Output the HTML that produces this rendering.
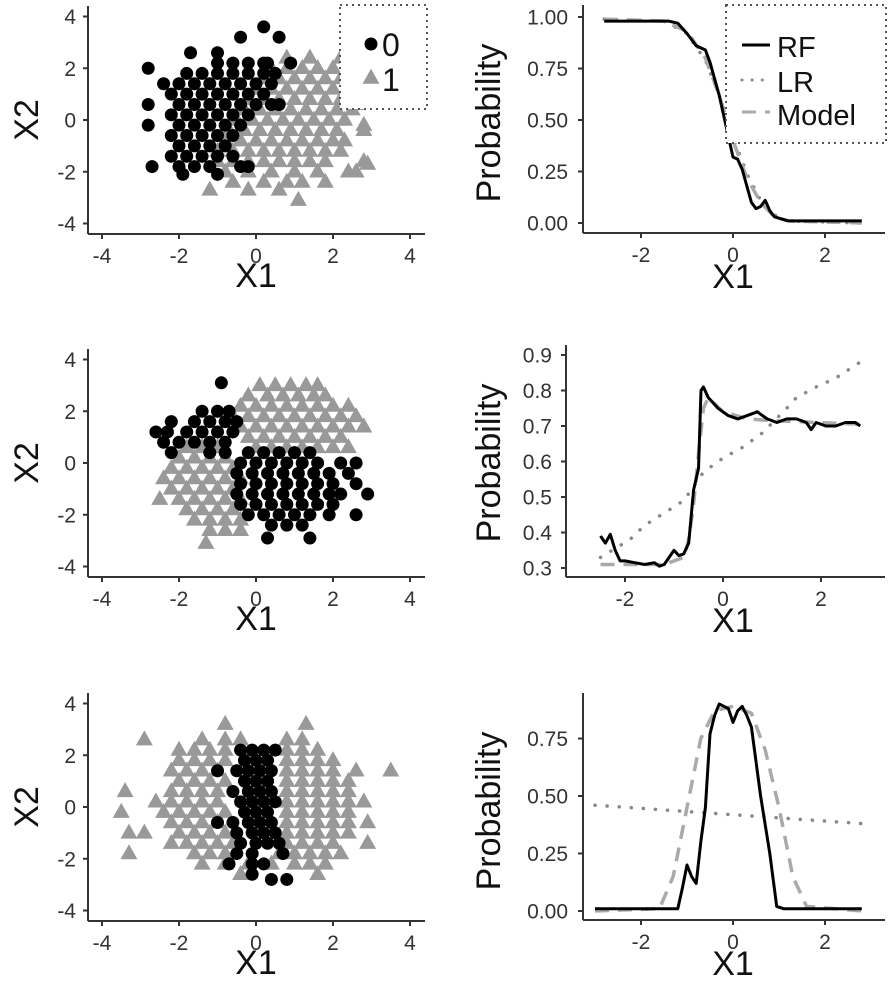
<!DOCTYPE html>
<html><head><meta charset="utf-8"><style>
html,body{margin:0;padding:0;background:#fff;}
svg{display:block;font-family:"Liberation Sans",sans-serif;}
</style></head><body>
<svg id="fig" width="893" height="1004" viewBox="0 0 893 1004">
<g id="static"></g>
</svg>
<script>
// ---------- DATA ----------
// scatter rows: [y, [x values]]
const p1Gray=[[2.4,[0.8,1.4,2.2,2.6]],[2.0,[0.4,0.8,1.2,1.6,2.0]],[1.6,[0.2,0.6,1.0,1.4,1.8,2.2]],[1.2,[0.0,0.4,0.8,1.2,1.6,2.0,2.4]],[0.8,[-0.2,0.2,0.6,1.0,1.4,1.8,2.2,2.7]],[0.4,[-0.3,0.1,0.5,0.9,1.3,1.7,2.1,2.5]],[0.0,[-0.5,-0.1,0.3,0.7,1.1,1.5,1.9,2.3]],[-0.4,[-0.7,-0.3,0.1,0.5,0.9,1.3,1.7,2.1,2.8]],[-0.8,[-0.8,-0.4,0,0.4,0.8,1.2,1.6,2.0,2.3]],[-1.2,[-1.0,-0.6,-0.2,0.2,0.6,1.0,1.4,1.8,2.2]],[-1.6,[-1.0,-0.6,-0.2,0.2,0.6,1.0,1.4,1.8,2.8]],[-2.0,[-0.8,-0.2,0.4,1.0,1.6,2.4,2.6]],[-2.4,[-0.6,0.2,0.8,1.2,1.8]],[-2.7,[-1.2,-0.2,0.6]],[-3.1,[1.1]],[-1.7,[2.9]],[-0.2,[2.8]],[0.6,[2.6]]];
const p1Black=[[2.2,[-1.0,-0.6,-0.2,0.2,0.3,0.9]],[1.8,[-1.8,-1.4,-1.0,-0.6,-0.2,0.2,0.5]],[1.4,[-2.0,-1.6,-1.2,-0.8,-0.4,0.0,0.4,-2.4]],[1.0,[-2.2,-1.8,-1.4,-1.0,-0.6,-0.2,0.2]],[0.6,[-2.0,-1.6,-1.2,-0.8,-0.4,0.0,0.4,0.6,-2.8]],[0.2,[-2.2,-1.8,-1.4,-1.0,-0.6,-0.2]],[-0.2,[-2.0,-1.6,-1.2,-0.8,-0.4,-2.8]],[-0.6,[-2.2,-1.8,-1.4,-1.0,-0.6]],[-1.0,[-2.0,-1.6,-1.2,-0.8]],[-1.4,[-2.2,-1.8,-1.4,-1.0,-0.6]],[-1.8,[-2.0,-1.6,-1.2,-0.4,-0.2,-2.7]],[-2.1,[-1.9,-1.0]],[2.0,[-2.8]],[2.6,[-1.7,-1.0]],[3.2,[-0.4,0.6]],[3.6,[0.2]]];
const p2Gray=[[3.0,[0.1,0.5,0.9,1.3,1.6]],[2.6,[-0.2,0.3,0.7,1.1,1.5,1.8]],[2.2,[-0.4,0,0.4,0.8,1.2,1.6,2.0,2.4]],[1.8,[-0.6,-0.2,0.2,0.6,1.0,1.4,1.8,2.2,2.6]],[1.4,[-0.4,0,0.4,0.8,1.2,1.6,2.0,2.4,2.8]],[1.0,[-0.2,0.2,0.6,1.0,1.4,1.8,2.2]],[0.6,[0.0,0.4,0.8,1.2,1.6,2.0,2.4,-1.8,-1.4,-1.0]],[0.2,[-2.0,-1.6,-1.2,-0.8]],[-0.2,[-2.2,-1.8,-1.4,-1.0,-0.6]],[-0.6,[-2.4,-2.0,-1.6,-1.2,-0.8,-0.4]],[-1.0,[-2.2,-1.8,-1.4,-1.0,-0.6]],[-1.4,[-2.5,-2.0,-1.6,-1.2,-0.8,-0.4]],[-1.8,[-1.8,-1.4,-1.0,-0.6]],[-2.2,[-1.6,-1.2,-0.8,-0.4]],[-2.6,[-1.2,-0.8,-0.4]],[-3.1,[-1.3]]];
const p2Black=[[2.0,[-1.4,-1.0,-0.7]],[1.6,[-2.2,-1.6,-1.2,-0.8,-0.5]],[1.2,[-2.6,-2.3,-1.8,-1.4,-1.0,-0.6]],[0.8,[-2.4,-2.0,-1.6,-1.2,-0.8]],[0.4,[-2.2,-1.2,-0.8,-0.2,0.2,0.6,1.0,1.4]],[3.1,[-0.9]],[0.0,[-0.4,0,0.4,0.8,1.2,1.6,2.2,2.6]],[-0.4,[-0.5,-0.1,0.3,0.7,1.1,1.5,1.9,2.4]],[-0.8,[-0.4,0,0.4,0.8,1.2,1.6,2.0,2.6]],[-1.2,[-0.5,-0.1,0.3,0.7,1.1,1.5,1.9,2.2,2.9]],[-1.6,[-0.4,0,0.4,0.8,1.2,1.6,2.0]],[-2.0,[-0.2,0.2,0.6,1.0,1.4,1.9,2.6]],[-2.4,[0.4,0.8,1.2]],[-2.9,[0.3,1.4]]];
const p3Gray=[[3.2,[-0.8,1.3]],[2.6,[-2.9,-1.4,-0.8,-0.4,0.8,1.2]],[2.2,[-2.0,-1.6,-1.2,-0.8,0.8,1.2,1.6]],[1.8,[-2.0,-1.6,-1.2,-0.8,0.8,1.2,1.6,2.0]],[1.4,[-2.2,-1.8,-1.4,-1.0,0.8,1.2,1.6,2.0,2.6,3.5]],[1.0,[-2.0,-1.6,-1.2,-0.8,0.8,1.2,1.6,2.0,2.4]],[0.6,[-3.4,-2.2,-1.8,-1.4,-1.0,0.8,1.2,1.6,2.0,2.4]],[0.2,[-2.6,-2.2,-1.8,-1.4,-1.0,0.8,1.2,1.6,2.0,2.4,2.8]],[-0.2,[-3.5,-2.4,-2.0,-1.6,-1.2,-0.8,0.8,1.2,1.6,2.0,2.4]],[-0.6,[-2.2,-1.8,-1.4,-1.0,0.8,1.2,1.6,2.0,2.4,2.9]],[-1.0,[-3.3,-2.9,-2.0,-1.6,-1.2,-0.8,0.8,1.2,1.6,2.0,2.4]],[-1.4,[-2.2,-1.8,-1.4,-1.0,-0.6,0.8,1.2,1.6,2.0,2.9]],[-1.8,[-3.3,-1.6,-1.2,-0.8,0.6,1.0,1.4,1.8,2.2]],[-2.2,[-1.4,-0.8,-0.2,0.4,1.0,1.4,1.8]],[-2.6,[-0.4,1.6]]];
const p3Black=[[2.2,[-0.4,-0.1,0.2,0.5]],[1.8,[-0.3,0,0.3]],[1.4,[-1.0,-0.5,-0.2,0.1,0.4]],[1.0,[-0.3,0,0.3]],[0.6,[-0.6,-0.2,0.1,0.4]],[0.2,[-0.4,-0.1,0.2,0.5]],[-0.2,[-0.3,0,0.3]],[-0.6,[-1.0,-0.6,-0.2,0.1,0.4]],[-1.0,[-0.5,-0.1,0.2,0.5]],[-1.4,[-0.4,0,0.3,0.6]],[-1.8,[-0.5,-0.1,0.7]],[-2.2,[-0.7,-0.1,0.2]],[-2.6,[-0.1]],[-2.8,[0.4,0.8]]];

const q1X=[-2.8,-1.4,-1.2,-1.0,-0.8,-0.6,-0.5,-0.4,-0.3,-0.2,-0.1,0,0.1,0.2,0.3,0.4,0.5,0.6,0.7,0.8,0.9,1.2,2.8];
const q1RF=[0.98,0.98,0.97,0.92,0.86,0.84,0.78,0.70,0.62,0.52,0.42,0.32,0.31,0.26,0.18,0.10,0.07,0.08,0.11,0.06,0.03,0.01,0.01];
const q1MX=[-2.8,-1.5,-1.0,-0.6,-0.3,0,0.3,0.6,0.9,1.2,2.8];
const q1Model=[0.99,0.98,0.93,0.80,0.62,0.40,0.22,0.10,0.03,0.01,0.00];
const q1LR=[0.99,0.98,0.92,0.79,0.62,0.42,0.24,0.11,0.04,0.01,0.00];

const q2X=[-2.5,-2.4,-2.3,-2.2,-2.1,-2.0,-1.8,-1.6,-1.4,-1.3,-1.2,-1.1,-1.0,-0.9,-0.8,-0.7,-0.6,-0.5,-0.45,-0.4,-0.3,-0.1,0.1,0.3,0.5,0.7,0.9,1.1,1.3,1.5,1.7,1.8,1.9,2.1,2.3,2.5,2.7,2.8];
const q2RF=[0.39,0.37,0.395,0.35,0.32,0.32,0.315,0.31,0.315,0.305,0.31,0.33,0.35,0.335,0.34,0.37,0.52,0.58,0.80,0.81,0.78,0.75,0.73,0.72,0.73,0.74,0.72,0.71,0.72,0.72,0.71,0.69,0.71,0.70,0.70,0.71,0.71,0.70];
const q2MX=[-2.5,-1.2,-0.8,-0.7,-0.6,-0.5,-0.4,-0.3,0,0.5,1.0,2.8];
const q2Model=[0.31,0.31,0.33,0.38,0.48,0.62,0.75,0.78,0.74,0.72,0.715,0.705];
const q2LX=[-2.5,-1.9,-1.6,-1.2,-0.8,-0.4,0,0.4,0.8,1.3,1.5,1.9,2.3,2.8];
const q2LR=[0.33,0.38,0.42,0.455,0.49,0.57,0.61,0.64,0.68,0.75,0.78,0.81,0.835,0.88];

const q3X=[-3,-1.2,-1.1,-1.0,-0.9,-0.8,-0.7,-0.6,-0.5,-0.4,-0.3,-0.1,0,0.1,0.2,0.3,0.4,0.6,0.8,0.95,1.1,2.8];
const q3RF=[0.01,0.01,0.10,0.20,0.15,0.12,0.30,0.45,0.77,0.85,0.90,0.88,0.82,0.87,0.89,0.85,0.80,0.50,0.25,0.02,0.01,0.01];
const q3MX=[-3,-1.6,-1.3,-1.0,-0.7,-0.4,0,0.4,0.7,1.0,1.3,1.6,2.8];
const q3Model=[0.0,0.01,0.15,0.45,0.75,0.87,0.89,0.86,0.70,0.45,0.15,0.02,0.0];
const q3LX=[-3,2.8];
const q3LR=[0.46,0.38];

const scatTicks=[-4,-2,0,2,4];
const probX=[-2,0,2];
const q1Ticks=[0,0.25,0.5,0.75,1];
const q2Ticks=[0.3,0.4,0.5,0.6,0.7,0.8,0.9];
const q3Ticks=[0,0.25,0.5,0.75];

// ---------- DRAW ----------
const NS='http://www.w3.org/2000/svg';
const svg=document.getElementById('fig');
function mk(tag,attrs,parent){const e=document.createElementNS(NS,tag);for(const k in attrs)e.setAttribute(k,attrs[k]);(parent||svg).appendChild(e);return e;}
function lin(d0,d1,r0,r1){return v=>r0+(v-d0)*(r1-r0)/(d1-d0);}

function axes(g,sx,sy,x0,x1,y0,y1,xt,yt,fmt,xTitle,yTitle,xTitleX,xTitleY,yTitleX,yTitleY,labelRight){
  const ax=mk('line',{x1:x0,y1:y1,x2:x1,y2:y1,stroke:'#333',"stroke-width":2},g);
  
  const ay=mk('line',{x1:x0,y1:y0,x2:x0,y2:y1,stroke:'#333',"stroke-width":2},g);
  
  xt.forEach(v=>{const X=sx(v);
    const t=mk('line',{x1:X,y1:y1,x2:X,y2:y1+5,stroke:'#333',"stroke-width":2},g);
    
    const l=mk('text',{x:X,y:y1+29,"text-anchor":'middle',"font-size":21,fill:'#333'},g);l.textContent=v;
    });
  yt.forEach(v=>{const Y=sy(v);
    const t=mk('line',{x1:x0-5,y1:Y,x2:x0,y2:Y,stroke:'#333',"stroke-width":2},g);
    
    const l=mk('text',{x:labelRight,y:Y+7.5,"text-anchor":'end',"font-size":21,fill:'#333'},g);l.textContent=fmt(v);
    });
  const xtl=mk('text',{x:xTitleX,y:xTitleY,"text-anchor":'middle',"font-size":34,fill:'#111'},g);xtl.textContent=xTitle;
  
  const ytl=mk('text',{x:yTitleX,y:yTitleY,"text-anchor":'middle',"font-size":34,fill:'#111',transform:`rotate(-90 ${yTitleX} ${yTitleY})`},g);ytl.textContent=yTitle;
  
}
function tri(g,X,Y){const s=17,h=15;
  const p=mk('polygon',{points:`${X},${Y-h*0.62} ${X-s/2},${Y+h*0.38} ${X+s/2},${Y+h*0.38}`,fill:'#999999'},g);
  }
function dot(g,X,Y){const c=mk('circle',{cx:X,cy:Y,r:6.5,fill:'#000'},g);
  }

function scatter(name,gray,black,zeroY){
  const g=mk('g',{});
  const sx=lin(0,2,256,333), sy=lin(0,4,zeroY,zeroY-103.5);
  axes(g,sx,sy,88,425,zeroY-114,zeroY+114,scatTicks,scatTicks,v=>v,'X1','X2',256,zeroY+167,38,zeroY,76);
  gray.forEach(r=>r[1].forEach(x=>tri(g,sx(x),sy(r[0]))));
  black.forEach(r=>r[1].forEach(x=>dot(g,sx(x),sy(r[0]))));
  return g;
}
function path(g,xs,ys,sx,sy,attrs,name){
  const d=xs.map((x,i)=>(i?'L':'M')+sx(x).toFixed(1)+','+sy(ys[i]).toFixed(1)).join(' ');
  const p=mk('path',Object.assign({d:d,fill:'none'},attrs),g);
  }
function prob(name,cfg){
  const g=mk('g',{});
  axes(g,cfg.sx,cfg.sy,cfg.x0,885,cfg.top,cfg.bot,probX,cfg.ticks,cfg.fmt,'X1','Probability',733,cfg.bot+55,500,cfg.top+118,cfg.lr);
  path(g,cfg.lx,cfg.lrv,cfg.sx,cfg.sy,{stroke:'#888',"stroke-width":3.5,"stroke-dasharray":'0.1 12',"stroke-linecap":'round'},'lr-line');
  path(g,cfg.mx,cfg.model,cfg.sx,cfg.sy,{stroke:'#aaa',"stroke-width":3.5,"stroke-dasharray":'14 9'},'model-line');
  path(g,cfg.rx,cfg.rf,cfg.sx,cfg.sy,{stroke:'#000',"stroke-width":3,"stroke-linejoin":'round'},'rf-line');
  return g;
}
scatter('scatter-panel-1',p1Gray,p1Black,120);
scatter('scatter-panel-2',p2Gray,p2Black,463);
scatter('scatter-panel-3',p3Gray,p3Black,807);
const f2=v=>v.toFixed(2), f1=v=>v.toFixed(1);
prob('probability-panel-1',{sx:lin(0,2,733,825),sy:lin(0,1,223,17),x0:583,top:5,bot:233,ticks:q1Ticks,fmt:f2,lr:568,
  rx:q1X,rf:q1RF,mx:q1MX,model:q1Model,lx:q1MX,lrv:q1LR});
prob('probability-panel-2',{sx:lin(0,2,723,821),sy:lin(0.3,0.9,568,355),x0:566,top:345,bot:577,ticks:q2Ticks,fmt:f1,lr:552,
  rx:q2X,rf:q2RF,mx:q2MX,model:q2Model,lx:q2LX,lrv:q2LR});
prob('probability-panel-3',{sx:lin(0,2,733,825),sy:lin(0,0.25,911,853.5),x0:583,top:693,bot:920,ticks:q3Ticks,fmt:f2,lr:568,
  rx:q3X,rf:q3RF,mx:q3MX,model:q3Model,lx:q3LX,lrv:q3LR});

// legends
const lg1=mk('g',{});
mk('rect',{x:340,y:5,width:87,height:104,fill:'#fff',stroke:'#555',"stroke-width":2,"stroke-dasharray":'2 4'},lg1);
dot(lg1,371,44);
const t0=mk('text',{x:382,y:56,"font-size":32,fill:'#111'},lg1);t0.textContent='0';

tri(lg1,371,78);
const t1=mk('text',{x:382,y:91,"font-size":32,fill:'#111'},lg1);t1.textContent='1';


const lg2=mk('g',{});
mk('rect',{x:726,y:5,width:160,height:138,fill:'#fff',stroke:'#555',"stroke-width":2,"stroke-dasharray":'2 4'},lg2);
mk('line',{x1:742,y1:45,x2:770,y2:45,stroke:'#000',"stroke-width":3},lg2);
mk('line',{x1:742,y1:80,x2:770,y2:80,stroke:'#888',"stroke-width":3,"stroke-dasharray":'0.1 10',"stroke-linecap":'round'},lg2);
mk('line',{x1:742,y1:112,x2:770,y2:112,stroke:'#aaa',"stroke-width":3,"stroke-dasharray":'14 9'},lg2);
[['RF',57],['LR',92],['Model',125]].forEach(a=>{const t=mk('text',{x:777,y:a[1],"font-size":29,fill:'#111'},lg2);t.textContent=a[0];
  });
</script>
</body></html>
